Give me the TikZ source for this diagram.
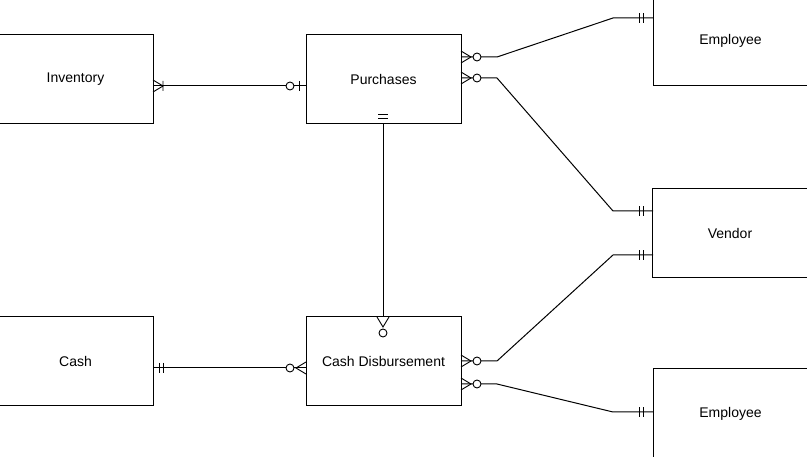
\documentclass[tikz,border=0pt]{standalone}
\usepackage{fontspec}
\setmainfont{Liberation Sans}
\begin{document}
\begin{tikzpicture}[x=1pt,y=-1pt,line width=1pt,
  ent/.style={draw,minimum width=155pt,minimum height=89pt,inner sep=0pt,font=\fontsize{14}{16}\selectfont},
  mk/.style={line width=0.9pt}]
\useasboundingbox (0,0) rectangle (807,457);
\newcommand\mkone[3]{\begin{scope}[shift={(#1)},rotate=#2,mk]\draw(#3+10,-5)--(#3+10,5)(#3+14,-5)--(#3+14,5);\end{scope}}
\newcommand\mkzone[2]{\begin{scope}[shift={(#1)},rotate=#2,mk]\draw(7,-5)--(7,5);\draw[fill=white](16,0)circle(4);\end{scope}}
\newcommand\mkonemany[2]{\begin{scope}[shift={(#1)},rotate=#2,mk]\draw(0,-6)--(10,0)--(0,6)(10,-5)--(10,5);\end{scope}}
\newcommand\mkzmany[2]{\begin{scope}[shift={(#1)},rotate=#2,mk]\draw(0,-6)--(10,0)--(0,6);\draw[fill=white](16,0)circle(4);\end{scope}}
\node[ent] (inv) at (75.5,79.5) {Inventory};
\node[ent] (pur) at (383.5,79.5) {Purchases};
\node[ent] (emp1) at (730.5,41) {Employee};
\node[ent] (ven) at (730,233) {Vendor};
\node[ent] (cash) at (75.5,361.5) {Cash};
\node[ent] (cd) at (383.5,361.5) {Cash Disbursement};
\node[ent] (emp2) at (730.5,413.5) {Employee};
% Inventory - Purchases
\coordinate (a1) at (153,86); \coordinate (a2) at (306,86);
\draw (a1)--(a2); \mkonemany{a1}{0} \mkzone{a2}{180}
% Purchases - Employee
\coordinate (b1) at (461,57); \coordinate (b2) at (653,18);
\draw (b1)--(497,57)--(613,18)--(b2); \mkzmany{b1}{0} \mkone{b2}{180}{0}
% Purchases - Vendor
\coordinate (c1) at (461,78); \coordinate (c2) at (653,211);
\draw (c1)--(497,78)--(613,211)--(c2); \mkzmany{c1}{0} \mkone{c2}{180}{0}
% Purchases - Cash Disbursement
\coordinate (d1) at (383,124); \coordinate (d2) at (383,317);
\draw (d1)--(d2); \mkone{d1}{90}{-4} \mkzmany{d2}{-90}
% Cash - Cash Disbursement
\coordinate (e1) at (153,368); \coordinate (e2) at (306,368);
\draw (e1)--(e2); \mkone{e1}{0}{-4} \mkzmany{e2}{180}
% CD - Vendor
\coordinate (f1) at (461,361); \coordinate (f2) at (653,255);
\draw (f1)--(497,361)--(613,255)--(f2); \mkzmany{f1}{0} \mkone{f2}{180}{0}
% CD - Employee
\coordinate (g1) at (461,384); \coordinate (g2) at (653,412);
\draw (g1)--(497,384)--(613,412)--(g2); \mkzmany{g1}{0} \mkone{g2}{180}{0}
\end{tikzpicture}
\end{document}
